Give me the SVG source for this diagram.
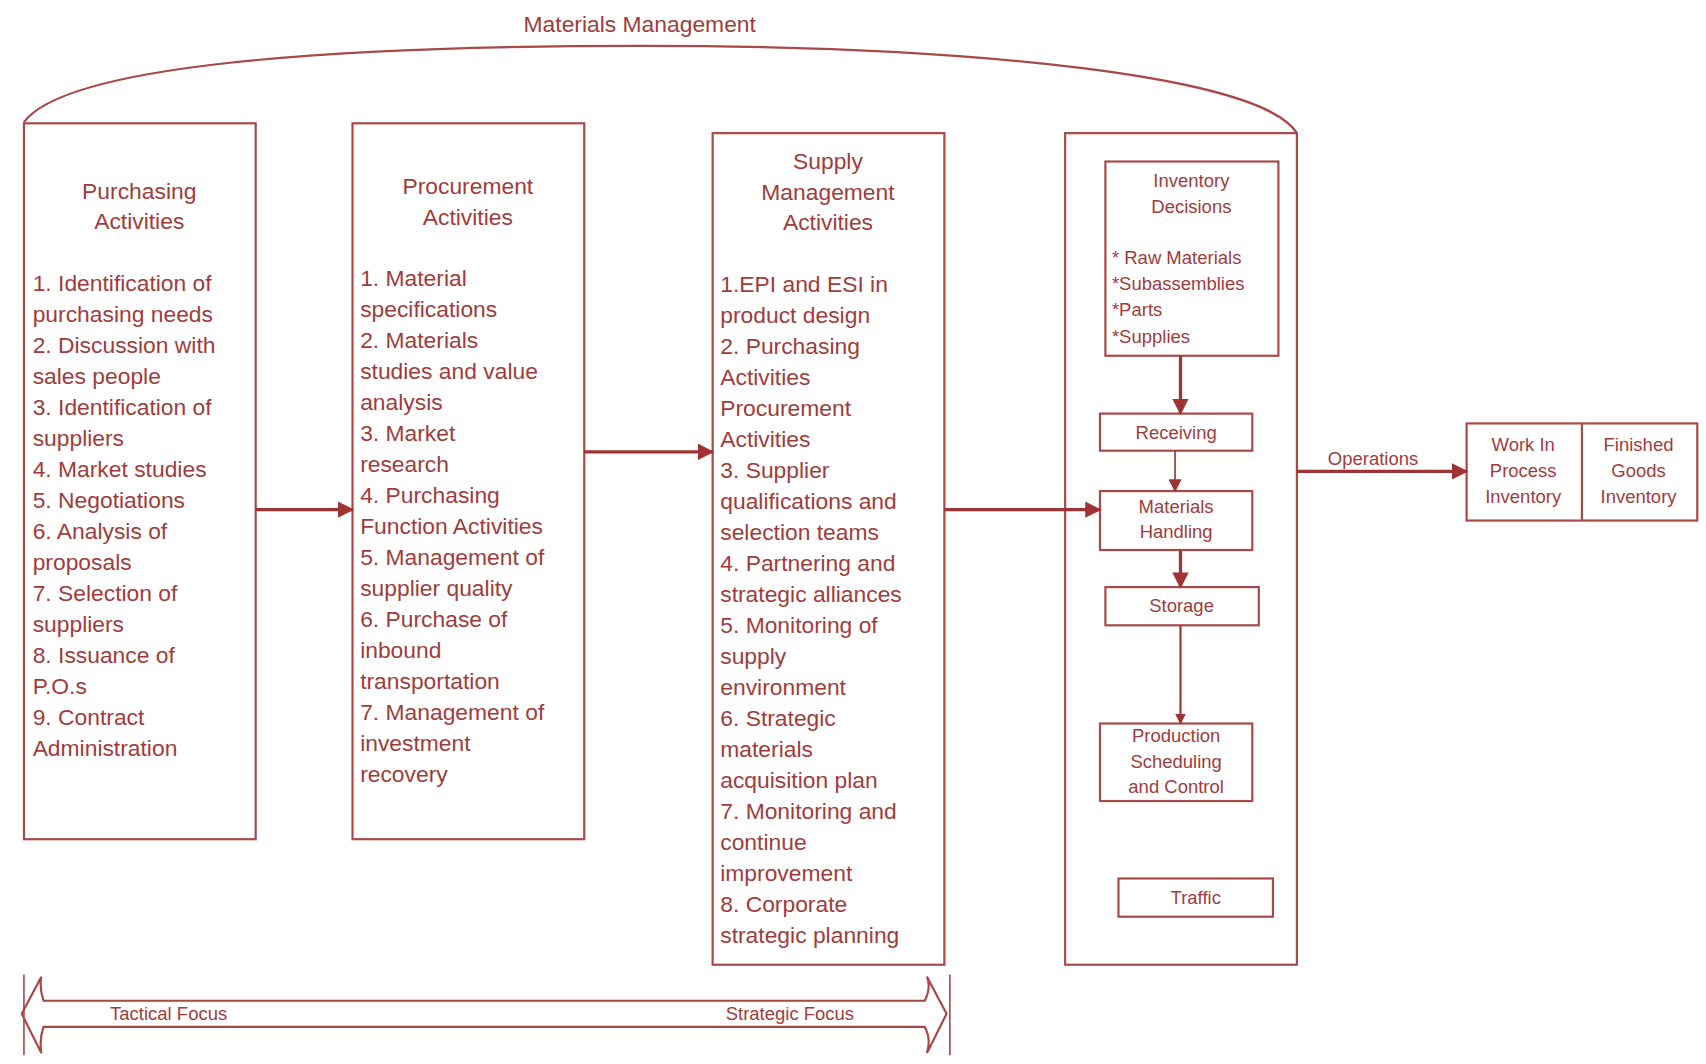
<svg xmlns="http://www.w3.org/2000/svg" width="1706" height="1064" viewBox="0 0 1706 1064">
<style>
.b{fill:none;stroke:#a84848;stroke-width:2}
.t{font-family:"Liberation Sans",Arial,sans-serif;fill:#a03c3c;font-size:21px}
.s{font-family:"Liberation Sans",Arial,sans-serif;fill:#a03c3c;font-size:17px}
.c{text-anchor:middle}
.l{stroke:#a03434;stroke-width:3;fill:none}
</style>
<defs><marker id="a" viewBox="0 0 10 10" refX="9" refY="5" markerWidth="5" markerHeight="5" orient="auto" markerUnits="strokeWidth"><path d="M0,0L10,5L0,10Z" fill="#a03434"/></marker>
<marker id="a2" viewBox="0 0 10 10" refX="9" refY="5" markerWidth="8" markerHeight="8" orient="auto" markerUnits="strokeWidth"><path d="M0,0L10,5L0,10Z" fill="#a03434"/></marker></defs>
<rect width="1706" height="1064" fill="#fff"/>
<g transform="scale(1.088 1.0913)">
<g id="title"><text class="t c" x="588" y="29" font-size="20">Materials Management</text>
<path class="b" d="M22,112 C60,60 300,42 588,42 C900,42 1160,70 1192,122"/></g>
<g id="purchasing"><rect class="b" x="22" y="113" width="213" height="656"/>
<text class="t c" x="128" y="182"><tspan x="128">Purchasing</tspan><tspan x="128" dy="28">Activities</tspan></text>
<text class="t" x="30" y="267"><tspan x="30">1. Identification of</tspan><tspan x="30" dy="28.4">purchasing needs</tspan><tspan x="30" dy="28.4">2. Discussion with</tspan><tspan x="30" dy="28.4">sales people</tspan><tspan x="30" dy="28.4">3. Identification of</tspan><tspan x="30" dy="28.4">suppliers</tspan><tspan x="30" dy="28.4">4. Market studies</tspan><tspan x="30" dy="28.4">5. Negotiations</tspan><tspan x="30" dy="28.4">6. Analysis of</tspan><tspan x="30" dy="28.4">proposals</tspan><tspan x="30" dy="28.4">7. Selection of</tspan><tspan x="30" dy="28.4">suppliers</tspan><tspan x="30" dy="28.4">8. Issuance of</tspan><tspan x="30" dy="28.4">P.O.s</tspan><tspan x="30" dy="28.4">9. Contract</tspan><tspan x="30" dy="28.4">Administration</tspan></text></g>
<g id="procurement"><rect class="b" x="324" y="113" width="213" height="656"/>
<text class="t c" x="430" y="178"><tspan x="430">Procurement</tspan><tspan x="430" dy="28">Activities</tspan></text>
<text class="t" x="331" y="262"><tspan x="331">1. Material</tspan><tspan x="331" dy="28.4">specifications</tspan><tspan x="331" dy="28.4">2. Materials</tspan><tspan x="331" dy="28.4">studies and value</tspan><tspan x="331" dy="28.4">analysis</tspan><tspan x="331" dy="28.4">3. Market</tspan><tspan x="331" dy="28.4">research</tspan><tspan x="331" dy="28.4">4. Purchasing</tspan><tspan x="331" dy="28.4">Function Activities</tspan><tspan x="331" dy="28.4">5. Management of</tspan><tspan x="331" dy="28.4">supplier quality</tspan><tspan x="331" dy="28.4">6. Purchase of</tspan><tspan x="331" dy="28.4">inbound</tspan><tspan x="331" dy="28.4">transportation</tspan><tspan x="331" dy="28.4">7. Management of</tspan><tspan x="331" dy="28.4">investment</tspan><tspan x="331" dy="28.4">recovery</tspan></text></g>
<g id="supply"><rect class="b" x="655" y="122" width="213" height="762"/>
<text class="t c" x="761" y="155"><tspan x="761">Supply</tspan><tspan x="761" dy="28">Management</tspan><tspan x="761" dy="28">Activities</tspan></text>
<text class="t" x="662" y="268"><tspan x="662">1.EPI and ESI in</tspan><tspan x="662" dy="28.4">product design</tspan><tspan x="662" dy="28.4">2. Purchasing</tspan><tspan x="662" dy="28.4">Activities</tspan><tspan x="662" dy="28.4">Procurement</tspan><tspan x="662" dy="28.4">Activities</tspan><tspan x="662" dy="28.4">3. Supplier</tspan><tspan x="662" dy="28.4">qualifications and</tspan><tspan x="662" dy="28.4">selection teams</tspan><tspan x="662" dy="28.4">4. Partnering and</tspan><tspan x="662" dy="28.4">strategic alliances</tspan><tspan x="662" dy="28.4">5. Monitoring of</tspan><tspan x="662" dy="28.4">supply</tspan><tspan x="662" dy="28.4">environment</tspan><tspan x="662" dy="28.4">6. Strategic</tspan><tspan x="662" dy="28.4">materials</tspan><tspan x="662" dy="28.4">acquisition plan</tspan><tspan x="662" dy="28.4">7. Monitoring and</tspan><tspan x="662" dy="28.4">continue</tspan><tspan x="662" dy="28.4">improvement</tspan><tspan x="662" dy="28.4">8. Corporate</tspan><tspan x="662" dy="28.4">strategic planning</tspan></text></g>
<g id="materials"><rect class="b" x="979" y="122" width="213" height="762"/></g>
<g id="inventory"><rect class="b" x="1016" y="148" width="159" height="178"/>
<text class="s c" x="1095" y="171"><tspan x="1095">Inventory</tspan><tspan x="1095" dy="24">Decisions</tspan></text>
<text class="s" x="1022" y="242"><tspan x="1022">* Raw Materials</tspan><tspan x="1022" dy="24">*Subassemblies</tspan><tspan x="1022" dy="24">*Parts</tspan><tspan x="1022" dy="24">*Supplies</tspan></text></g>
<g id="receiving"><rect class="b" x="1011" y="379" width="140" height="34"/><text class="s c" x="1081" y="402">Receiving</text></g>
<g id="handling"><rect class="b" x="1011" y="450" width="140" height="54"/><text class="s c" x="1081" y="470"><tspan x="1081">Materials</tspan><tspan x="1081" dy="23">Handling</tspan></text></g>
<g id="storage"><rect class="b" x="1016" y="538" width="141" height="35"/><text class="s c" x="1086" y="561">Storage</text></g>
<g id="production"><rect class="b" x="1011" y="663" width="140" height="71"/><text class="s c" x="1081" y="680"><tspan x="1081">Production</tspan><tspan x="1081" dy="23.5">Scheduling</tspan><tspan x="1081" dy="23.5">and Control</tspan></text></g>
<g id="traffic"><rect class="b" x="1028" y="805" width="142" height="35"/><text class="s c" x="1099" y="828">Traffic</text></g>
<g id="inventories"><rect class="b" x="1348" y="388" width="212" height="89"/><line class="b" x1="1454" y1="388" x2="1454" y2="477"/>
<text class="s c" x="1400" y="413"><tspan x="1400">Work In</tspan><tspan x="1400" dy="24">Process</tspan><tspan x="1400" dy="24">Inventory</tspan></text>
<text class="s c" x="1506" y="413"><tspan x="1506">Finished</tspan><tspan x="1506" dy="24">Goods</tspan><tspan x="1506" dy="24">Inventory</tspan></text></g>
<g id="connectors">
<line class="l" x1="235" y1="467" x2="324" y2="467" marker-end="url(#a)"/>
<line class="l" x1="537" y1="414" x2="655" y2="414" marker-end="url(#a)"/>
<line class="l" x1="868" y1="467" x2="1011" y2="467" marker-end="url(#a)"/>
<line class="l" x1="1192" y1="432" x2="1348" y2="432" marker-end="url(#a)"/>
<text class="s c" x="1262" y="426">Operations</text>
<line class="l" x1="1085" y1="326" x2="1085" y2="379" marker-end="url(#a)"/>
<line class="l" style="stroke-width:1.5" x1="1080" y1="413" x2="1080" y2="450" marker-end="url(#a2)"/>
<line class="l" x1="1085" y1="504" x2="1085" y2="538" marker-end="url(#a)"/>
<line class="l" style="stroke-width:2" x1="1085" y1="573" x2="1085" y2="663" marker-end="url(#a)"/>
</g>
<g id="focus">
<path class="b" d="M40,917 L850,917 Q856,905 852,895 L870,929 L852,965 Q856,952 850,941 L40,941 Q36,952 38,965 L20,929 L38,895 Q36,905 40,917 Z"/>
<line class="b" x1="22" y1="893" x2="22" y2="967" style="stroke-width:1.5"/>
<line class="b" x1="873" y1="893" x2="873" y2="967" style="stroke-width:1.5"/>
<text class="s c" x="155" y="935">Tactical Focus</text>
<text class="s c" x="726" y="935">Strategic Focus</text>
</g>
</g>
</svg>
